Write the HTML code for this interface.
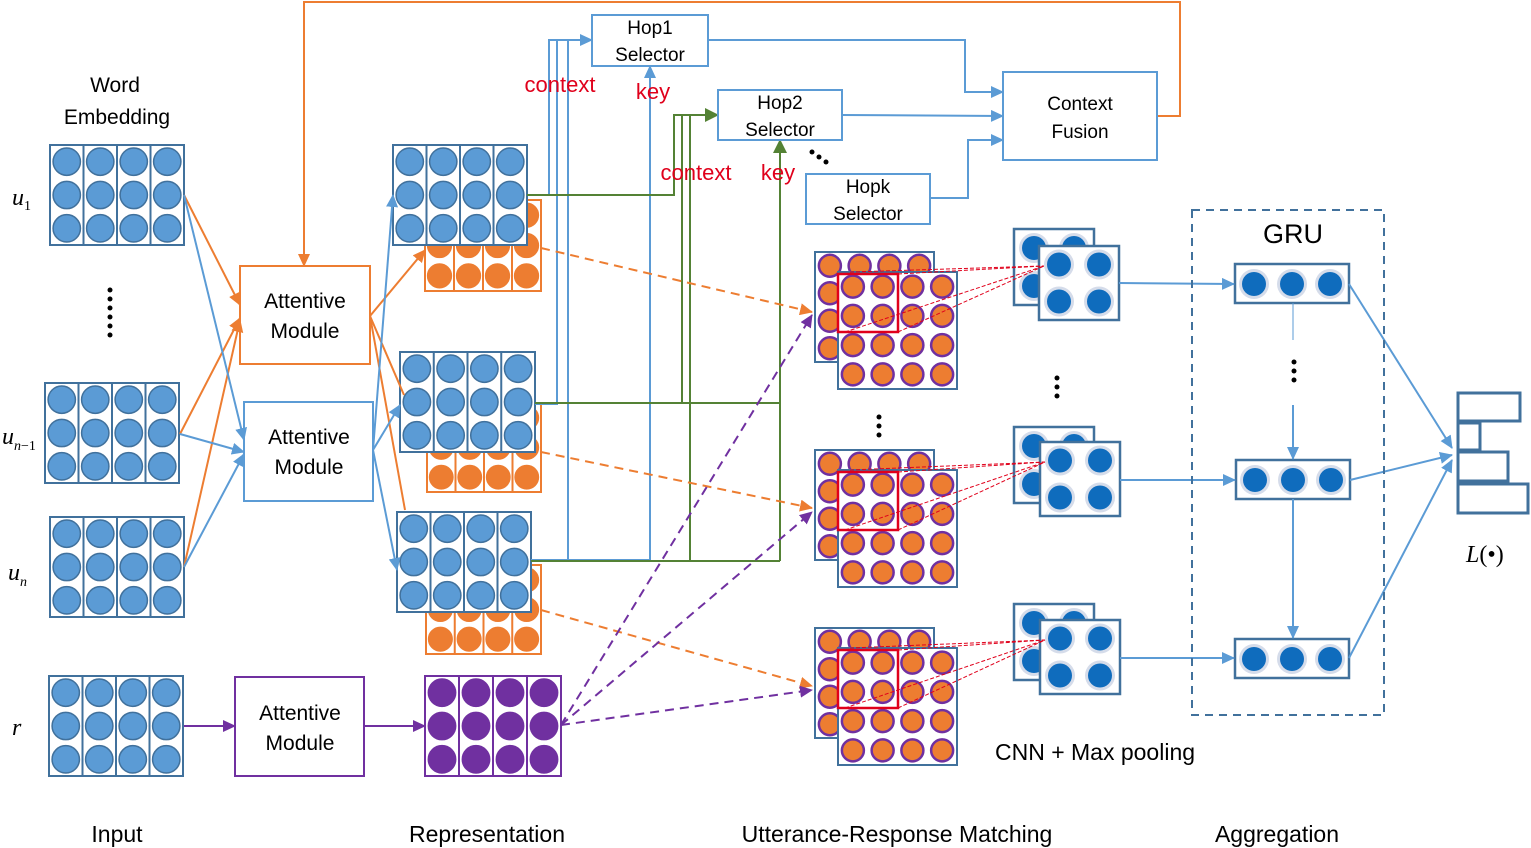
<!DOCTYPE html>
<html><head><meta charset="utf-8"><style>
body{margin:0;background:#fff;}
svg{display:block;font-family:"Liberation Sans",sans-serif;}
</style></head><body>
<svg id="s" width="1531" height="848" viewBox="0 0 1531 848" xmlns="http://www.w3.org/2000/svg">
<defs>
<marker id="ab" markerWidth="13" markerHeight="12" refX="12" refY="6" orient="auto" markerUnits="userSpaceOnUse"><path d="M0,0 L13,6 L0,12 z" fill="#5b9bd5"/></marker>
<marker id="ao" markerWidth="13" markerHeight="12" refX="12" refY="6" orient="auto" markerUnits="userSpaceOnUse"><path d="M0,0 L13,6 L0,12 z" fill="#ed7d31"/></marker>
<marker id="ag" markerWidth="14" markerHeight="14" refX="13" refY="7" orient="auto" markerUnits="userSpaceOnUse"><path d="M0,0 L14,7 L0,14 z" fill="#548235"/></marker>
<marker id="ap" markerWidth="13" markerHeight="12" refX="12" refY="6" orient="auto" markerUnits="userSpaceOnUse"><path d="M0,0 L13,6 L0,12 z" fill="#7030a0"/></marker>
</defs>
<g id="grids"></g>
<g fill="none" stroke-width="2">
<line x1="184" y1="195" x2="240" y2="305" stroke="#ed7d31" marker-end="url(#ao)"/>
<line x1="180" y1="434" x2="240" y2="318" stroke="#ed7d31" marker-end="url(#ao)"/>
<line x1="184" y1="567" x2="240" y2="320" stroke="#ed7d31" marker-end="url(#ao)"/>
<line x1="184" y1="195" x2="244" y2="440" stroke="#5b9bd5" marker-end="url(#ab)"/>
<line x1="180" y1="434" x2="244" y2="452" stroke="#5b9bd5" marker-end="url(#ab)"/>
<line x1="184" y1="567" x2="244" y2="454" stroke="#5b9bd5" marker-end="url(#ab)"/>
<line x1="370" y1="316" x2="425" y2="250" stroke="#ed7d31" marker-end="url(#ao)"/>
<line x1="370" y1="316" x2="404" y2="395" stroke="#ed7d31"/>
<line x1="370" y1="316" x2="405" y2="510" stroke="#ed7d31"/>
<line x1="373" y1="450" x2="393" y2="195" stroke="#5b9bd5" marker-end="url(#ab)"/>
<line x1="373" y1="450" x2="400" y2="405" stroke="#5b9bd5" marker-end="url(#ab)"/>
<line x1="373" y1="450" x2="397" y2="570" stroke="#5b9bd5" marker-end="url(#ab)"/>
<line x1="184" y1="726" x2="235" y2="726" stroke="#7030a0" marker-end="url(#ap)"/>
<line x1="364" y1="726" x2="425" y2="726" stroke="#7030a0" marker-end="url(#ap)"/>
<polyline points="1157,116 1180,116 1180,2 304,2 304,266" stroke="#ed7d31" marker-end="url(#ao)"/>
<polyline points="527,195 549,195 549,40 592,40" stroke="#5b9bd5" marker-end="url(#ab)"/>
<polyline points="535,404 557,404 557,40" stroke="#5b9bd5"/>
<polyline points="531,560 568,560 568,40" stroke="#5b9bd5"/>
<polyline points="568,560 650,560 650,66" stroke="#5b9bd5" marker-end="url(#ab)"/>
<polyline points="527,195 674,195 674,115 718,115" stroke="#548235" marker-end="url(#ag)"/>
<polyline points="535,403 780,403" stroke="#548235"/>
<polyline points="682,403 682,115" stroke="#548235"/>
<polyline points="531,561 780,561" stroke="#548235"/>
<polyline points="690,561 690,115" stroke="#548235"/>
<polyline points="780,561 780,140" stroke="#548235" marker-end="url(#ag)"/>
<polyline points="708,40 965,40 965,92 1003,92" stroke="#5b9bd5" marker-end="url(#ab)"/>
<line x1="842" y1="115" x2="1003" y2="116" stroke="#5b9bd5" marker-end="url(#ab)"/>
<polyline points="930,198 968,198 968,140 1003,140" stroke="#5b9bd5" marker-end="url(#ab)"/>
<line x1="541" y1="248" x2="812" y2="312" stroke="#ed7d31" stroke-dasharray="9,6" marker-end="url(#ao)"/>
<line x1="541" y1="452" x2="812" y2="508" stroke="#ed7d31" stroke-dasharray="9,6" marker-end="url(#ao)"/>
<line x1="541" y1="610" x2="812" y2="686" stroke="#ed7d31" stroke-dasharray="9,6" marker-end="url(#ao)"/>
<line x1="561" y1="725" x2="812" y2="315" stroke="#7030a0" stroke-dasharray="9,6" marker-end="url(#ap)"/>
<line x1="561" y1="725" x2="812" y2="512" stroke="#7030a0" stroke-dasharray="9,6" marker-end="url(#ap)"/>
<line x1="561" y1="725" x2="812" y2="690" stroke="#7030a0" stroke-dasharray="9,6" marker-end="url(#ap)"/>
<line x1="1119" y1="283" x2="1234" y2="284" stroke="#5b9bd5" marker-end="url(#ab)"/>
<line x1="1120" y1="480" x2="1235" y2="480" stroke="#5b9bd5" marker-end="url(#ab)"/>
<line x1="1120" y1="658" x2="1234" y2="658" stroke="#5b9bd5" marker-end="url(#ab)"/>
<line x1="1293" y1="303" x2="1293" y2="340" stroke="#5b9bd5" stroke-width="1"/>
<line x1="1293" y1="405" x2="1293" y2="459" stroke="#5b9bd5" marker-end="url(#ab)"/>
<line x1="1293" y1="499" x2="1293" y2="638" stroke="#5b9bd5" marker-end="url(#ab)"/>
<line x1="1349" y1="284" x2="1452" y2="448" stroke="#5b9bd5" marker-end="url(#ab)"/>
<line x1="1350" y1="480" x2="1452" y2="455" stroke="#5b9bd5" marker-end="url(#ab)"/>
<line x1="1349" y1="658" x2="1452" y2="460" stroke="#5b9bd5" marker-end="url(#ab)"/>
<rect x="1192" y="210" width="192" height="505" stroke="#41719c" stroke-dasharray="8,6"/>
<g stroke="#41719c" stroke-width="3">
<rect x="1458" y="393" width="62" height="28"/><rect x="1458" y="423" width="22" height="27"/>
<rect x="1458" y="452" width="50" height="29"/><rect x="1458" y="484" width="70" height="29"/>
</g>
<rect x="240" y="266" width="130" height="98" stroke="#ed7d31"/>
<rect x="244" y="402" width="129" height="99" stroke="#5b9bd5"/>
<rect x="235" y="677" width="129" height="99" stroke="#7030a0"/>
<rect x="592" y="15" width="116" height="51" stroke="#5b9bd5" fill="#fff"/>
<rect x="718" y="90" width="124" height="50" stroke="#5b9bd5" fill="#fff"/>
<rect x="806" y="174" width="124" height="50" stroke="#5b9bd5" fill="#fff"/>
<rect x="1003" y="72" width="154" height="88" stroke="#5b9bd5" fill="#fff"/>
</g>
<g font-size="21" text-anchor="middle" fill="#000">
<text x="305" y="308">Attentive</text><text x="305" y="338">Module</text>
<text x="309" y="444">Attentive</text><text x="309" y="474">Module</text>
<text x="300" y="720">Attentive</text><text x="300" y="750">Module</text>
<text x="650" y="34" font-size="19">Hop1</text><text x="650" y="61" font-size="19">Selector</text>
<text x="780" y="109" font-size="19">Hop2</text><text x="780" y="136" font-size="19">Selector</text>
<text x="868" y="193" font-size="19">Hopk</text><text x="868" y="220" font-size="19">Selector</text>
<text x="1080" y="110" font-size="19">Context</text><text x="1080" y="138" font-size="19">Fusion</text>
<text x="115" y="92">Word</text><text x="117" y="124">Embedding</text>
<text x="1293" y="243" font-size="27">GRU</text>
<text x="1095" y="760" font-size="23">CNN + Max pooling</text>
<text x="117" y="842" font-size="23">Input</text>
<text x="487" y="842" font-size="23">Representation</text>
<text x="897" y="842" font-size="23">Utterance-Response Matching</text>
<text x="1277" y="842" font-size="23">Aggregation</text>
<text x="560" y="92" fill="#e0001b" font-size="22">context</text>
<text x="653" y="99" fill="#e0001b" font-size="22">key</text>
<text x="696" y="180" fill="#e0001b" font-size="22">context</text>
<text x="778" y="180" fill="#e0001b" font-size="22">key</text>
</g>
<g font-family="Liberation Serif,serif" font-style="italic" font-size="24">
<text x="12" y="205">u<tspan font-size="14" font-style="normal" dy="5">1</tspan></text>
<text x="2" y="444">u<tspan font-size="14" dy="6">n</tspan><tspan font-size="14" font-style="normal">−1</tspan></text>
<text x="8" y="580">u<tspan font-size="14" dy="6">n</tspan></text>
<text x="12" y="735">r</text>
<text x="1466" y="562">L<tspan font-style="normal">(•)</tspan></text>
</g>
<g fill="#000">
<circle cx="110" cy="290" r="2.5"/><circle cx="110" cy="299" r="2.5"/><circle cx="110" cy="308" r="2.5"/><circle cx="110" cy="317" r="2.5"/><circle cx="110" cy="326" r="2.5"/><circle cx="110" cy="335" r="2.5"/>
<circle cx="812" cy="152" r="2.5"/><circle cx="819" cy="157" r="2.5"/><circle cx="826" cy="162" r="2.5"/>
<circle cx="879" cy="417" r="2.5"/><circle cx="879" cy="426" r="2.5"/><circle cx="879" cy="435" r="2.5"/>
<circle cx="1057" cy="378" r="2.5"/><circle cx="1057" cy="387" r="2.5"/><circle cx="1057" cy="396" r="2.5"/>
<circle cx="1294" cy="362" r="2.5"/><circle cx="1294" cy="371" r="2.5"/><circle cx="1294" cy="380" r="2.5"/>
</g>
</svg>
<script>
const NS="http://www.w3.org/2000/svg";
const G=document.getElementById('grids');
function el(t,a,p){const e=document.createElementNS(NS,t);for(const k in a)e.setAttribute(k,a[k]);(p||G).appendChild(e);return e;}
function colgrid(x,y,w,h,fill,stroke,cf,cs,cols,rows){
 el('rect',{x,y,width:w,height:h,fill:'#fff',stroke,'stroke-width':2});
 const cw=w/cols,rh=h/rows;
 for(let i=1;i<cols;i++)el('line',{x1:x+i*cw,y1:y,x2:x+i*cw,y2:y+h,stroke,'stroke-width':2});
 const r=Math.min(cw,rh)*0.41;
 for(let i=0;i<cols;i++)for(let j=0;j<rows;j++)el('circle',{cx:x+cw*(i+.5),cy:y+rh*(j+.5),r,fill:cf,stroke:cs,'stroke-width':1.5});
}
const B='#5b9bd5',BB='#41719c',O='#ed7d31',P='#7030a0';
[[50,145],[45,383],[50,517],[49,676]].forEach(p=>colgrid(p[0],p[1],134,100,B,BB,B,BB,4,3));
colgrid(425,200,116,91,O,O,O,O,4,3);
colgrid(393,145,134,100,B,BB,B,BB,4,3);
colgrid(427,403,114,89,O,O,O,O,4,3);
colgrid(400,352,135,100,B,BB,B,BB,4,3);
colgrid(426,565,115,89,O,O,O,O,4,3);
colgrid(397,512,134,100,B,BB,B,BB,4,3);
colgrid(425,676,136,100,P,P,P,P,4,3);
function mat(x,y,w,h){el('rect',{x,y,width:w,height:h,fill:'#fff',stroke:BB,'stroke-width':2});
 const cw=w/4,rh=h/4;for(let i=0;i<4;i++)for(let j=0;j<4;j++)el('circle',{cx:x+cw*(i+.5),cy:y+rh*(j+.5),r:11,fill:O,stroke:P,'stroke-width':2.5});}
function pool(x,y,w,h){el('rect',{x,y,width:w,height:h,fill:'#fff',stroke:BB,'stroke-width':2.5});
 const cw=w/2,rh=h/2;for(let i=0;i<2;i++)for(let j=0;j<2;j++){el('circle',{cx:x+cw*(i+.5),cy:y+rh*(j+.5),r:15,fill:'#d5dcea'});el('circle',{cx:x+cw*(i+.5),cy:y+rh*(j+.5),r:12,fill:'#0f6cbd'});}}
[[252,272,1014,229,1039,246],[450,470,1014,427,1040,442],[628,648,1014,604,1040,620]].forEach(a=>{
 mat(815,a[0],119,110);mat(838,a[1],119,117);
 el('rect',{x:838,y:a[1]+2,width:60,height:58,fill:'none',stroke:'#e0001b','stroke-width':2.5});
 pool(a[2],a[3],80,76);pool(a[4],a[5],80,74);
 const tx=a[4]+5,ty=a[5]+20;
 [[850,a[1]],[898,a[1]+2],[845,a[1]+60],[898,a[1]+60]].forEach(q=>el('line',{x1:q[0],y1:q[1],x2:tx,y2:ty,stroke:'#e0001b','stroke-width':1,'stroke-dasharray':'4,2'}));
});
[[1235,264],[1236,460],[1235,639]].forEach(p=>{el('rect',{x:p[0],y:p[1],width:114,height:39,fill:'#fff',stroke:BB,'stroke-width':2.5});
 for(let i=0;i<3;i++){el('circle',{cx:p[0]+19+i*38,cy:p[1]+20,r:15,fill:'#d5dcea'});el('circle',{cx:p[0]+19+i*38,cy:p[1]+20,r:12,fill:'#0f6cbd'});}});
</script>
</body></html>
